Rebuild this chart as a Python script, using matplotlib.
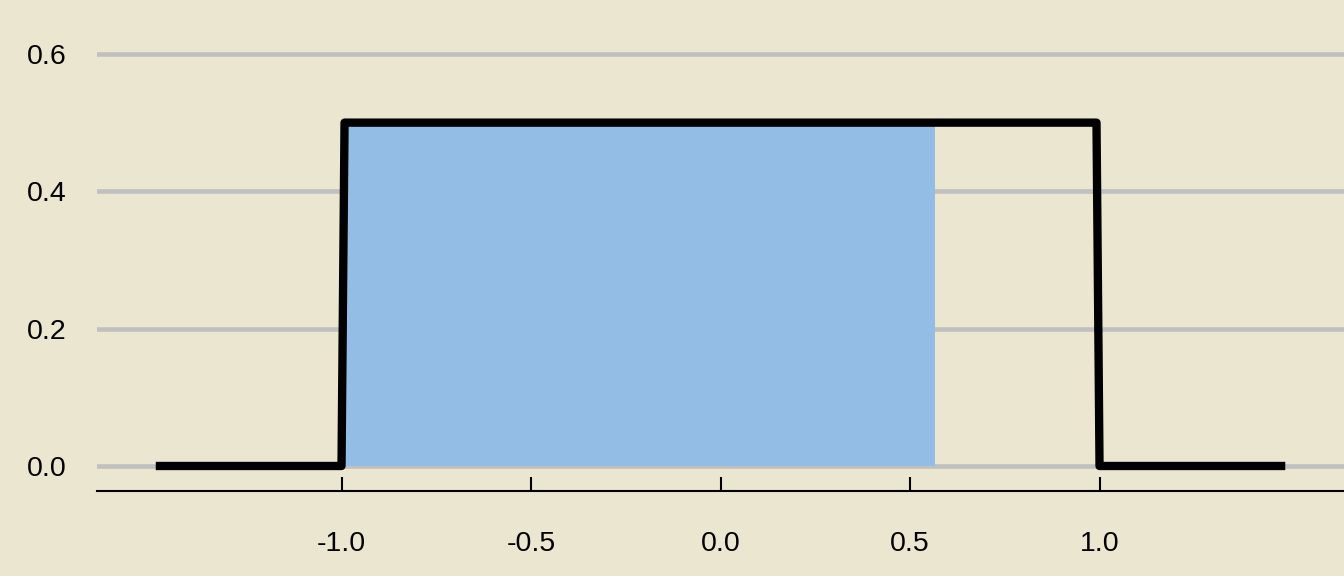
import numpy as np
import matplotlib
matplotlib.use("Agg")
from matplotlib import pyplot as plt

# density curve points (uniform on [-1, 1])
curve_x = [-1.49, -1.0, -0.992, 0.992, 1.0, 1.49]
curve_y = [0.0, 0.0, 0.5, 0.5, 0.0, 0.0]

# shaded region
shade_x = [-1.0, 0.566]
shade_y = [0.5, 0.5]

x_ticks = [-1.0, -0.5, 0.0, 0.5, 1.0]
x_labels = ["-1.0", "-0.5", "0.0", "0.5", "1.0"]
y_ticks = [0.0, 0.2, 0.4, 0.6]
y_labels = ["0.0", "0.2", "0.4", "0.6"]

bg = "#EBE6CF"
plt.rcParams['font.family'] = ['Liberation Sans', 'DejaVu Sans']

fig = plt.figure(figsize=(13.44, 5.76), dpi=100, facecolor=bg)
ax = fig.add_axes([0.0722, 0.1476, 0.9278, 0.8524])
ax.set_facecolor(bg)

ax.fill_between(shade_x, 0, shade_y, color="#94BDE5", linewidth=0, zorder=2)
ax.plot(curve_x, curve_y, color="black", linewidth=6,
        solid_joinstyle="round", solid_capstyle="butt", zorder=3)

for yv in y_ticks:
    ax.axhline(yv, color="#C0C0C0", linewidth=3.3, zorder=1)

ax.set_xlim(-1.645, 1.645)
ax.set_ylim(-0.0364, 0.6786)

ax.set_xticks(x_ticks)
ax.set_xticklabels(x_labels)
ax.set_yticks(y_ticks)
ax.set_yticklabels(y_labels)

for s in ["top", "right", "left"]:
    ax.spines[s].set_visible(False)
ax.spines["bottom"].set_linewidth(1.5)

ax.tick_params(axis="x", direction="in", length=10, width=1.5, pad=29,
               labelsize=20.5)
ax.tick_params(axis="y", length=0, pad=22, labelsize=20.5)

fig.savefig("out.png", dpi=100, facecolor=bg)
